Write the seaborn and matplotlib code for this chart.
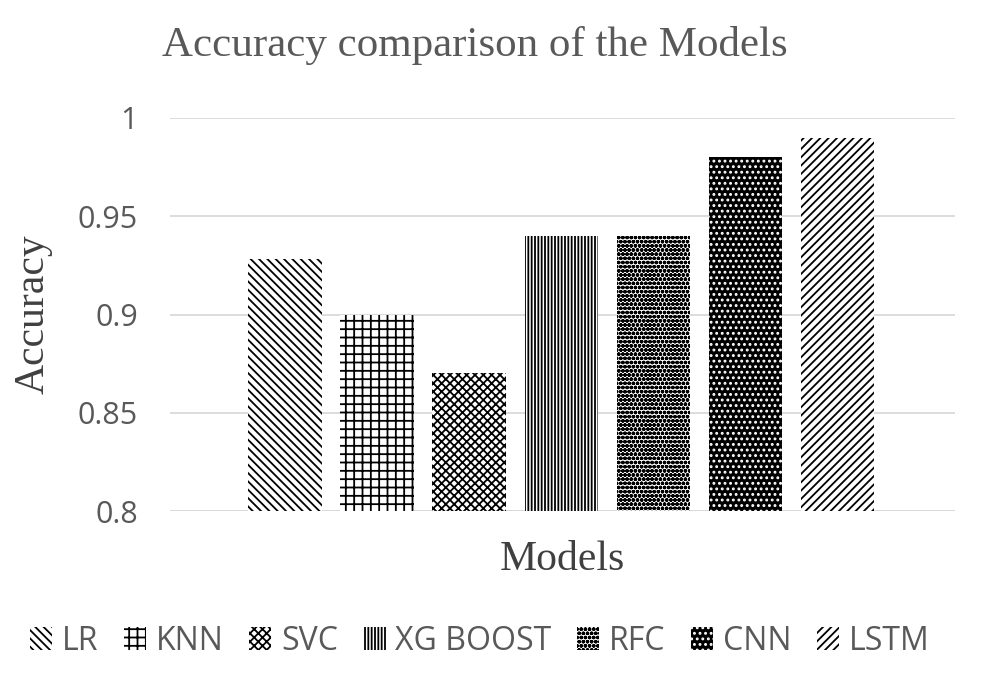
import matplotlib
matplotlib.use("Agg")
import matplotlib.pyplot as plt
from matplotlib.patches import Patch
import seaborn as sns
import pandas as pd

models = ["LR", "KNN", "SVC", "XG BOOST", "RFC", "CNN", "LSTM"]
accuracy = [0.928, 0.90, 0.87, 0.94, 0.94, 0.98, 0.99]
yticks = [0.8, 0.85, 0.9, 0.95, 1.0]
ytick_labels = ["0.8", "0.85", "0.9", "0.95", "1"]

hatches = ["\\\\\\\\", "++", "xxxx", "|||||", "oooo", "...", "////"]
faces = ["white", "white", "white", "white", "white", "black", "white"]
hcolors = ["black", "black", "black", "black", "black", "white", "black"]

sns.set_theme(style="white")
plt.rcParams["hatch.linewidth"] = 1.3

df = pd.DataFrame({"Model": models, "Accuracy": accuracy})

fig = plt.figure(figsize=(9.89, 6.82), dpi=100)
ax = fig.add_axes([0.172, 0.2507, 0.794, 0.5763])

sns.barplot(data=df, x="Model", y="Accuracy", hue="Model", order=models,
            hue_order=models, dodge=False, width=0.8, legend=False, ax=ax)

for i, bar in enumerate(ax.patches):
    bar.set_facecolor(faces[i])
    bar.set_edgecolor(hcolors[i])
    bar.set_hatch(hatches[i])
    bar.set_linewidth(0)

ax.set_ylim(0.8, 1.0)
ax.set_xlim(-1.25, 7.28)
ax.set_yticks(yticks)
ax.set_yticklabels(ytick_labels, fontsize=22, color="#595959", family="Open Sans")
ax.set_xticks([])
ax.tick_params(axis="y", length=0, pad=23)
ax.yaxis.grid(True, color="#d9d9d9", linewidth=1.3)
ax.set_axisbelow(True)
for s in ax.spines.values():
    s.set_visible(False)
ax.axhline(0.8, color="#d9d9d9", linewidth=1.3, zorder=0)

ax.set_xlabel("Models", fontsize=30, family="Liberation Serif", color="#404040", labelpad=21)
ax.set_ylabel("Accuracy", fontsize=30, family="Liberation Serif", color="#404040", labelpad=18)

fig.text(0.48, 0.933, "Accuracy comparison of the Models", ha="center", va="center",
         fontsize=31, family="Liberation Serif", color="#595959")

handles = [Patch(facecolor=faces[i], edgecolor=hcolors[i], hatch=hatches[i],
                 linewidth=0, label=models[i]) for i in range(len(models))]
leg = fig.legend(handles=handles, loc="center", bbox_to_anchor=(0.485, 0.06), ncol=7,
                 frameon=False, prop={"family": "Open Sans", "size": 23},
                 handlelength=0.7, handleheight=0.7, handletextpad=0.3, columnspacing=0.8,
                 borderpad=0, borderaxespad=0)
for t in leg.get_texts():
    t.set_color("#595959")

fig.savefig("out.png", dpi=100)
